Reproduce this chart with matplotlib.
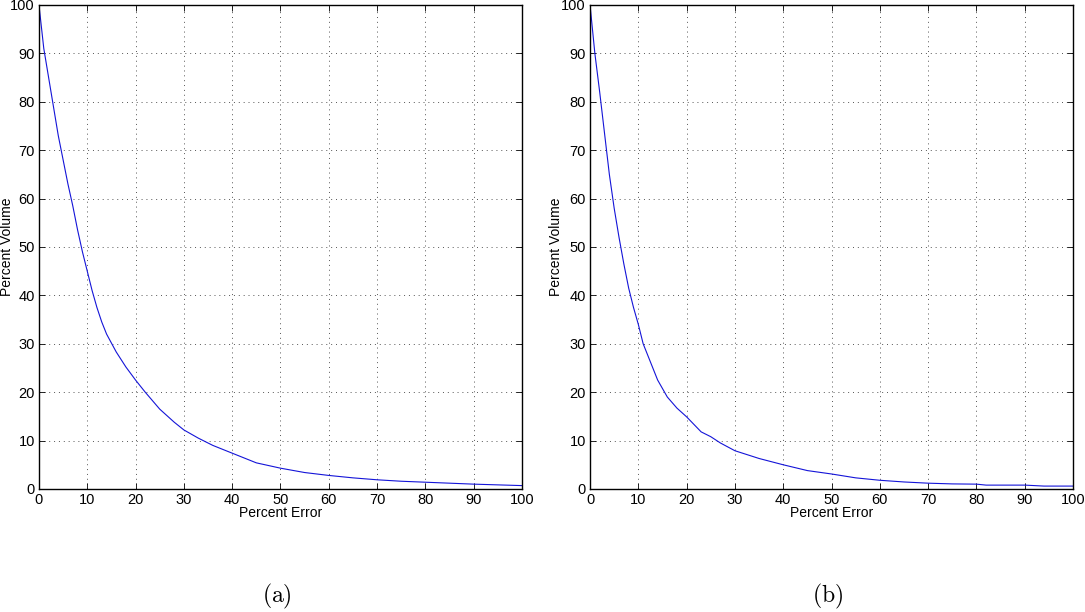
import matplotlib
matplotlib.use("Agg")
import matplotlib.pyplot as plt

# curve (a): percent volume vs percent error
err_a = [0, 1, 2, 3, 4, 5, 6, 7, 8, 9, 10, 11, 12, 13, 14, 16, 18, 20, 22, 25, 28,
         30, 33, 36, 40, 45, 50, 55, 60, 65, 70, 75, 80, 85, 90, 95, 100]
vol_a = [100, 91, 85, 79, 73, 68, 63, 58.5, 53.5, 49, 45, 41, 37.5, 34.5, 32,
         28.3, 25.2, 22.5, 20, 16.5, 13.8, 12.2, 10.5, 9, 7.4, 5.4, 4.3, 3.4,
         2.8, 2.3, 1.9, 1.6, 1.4, 1.2, 1.0, 0.85, 0.7]

# curve (b)
err_b = [0, 1, 2, 3, 4, 5, 6, 7, 8, 9, 10, 11, 12, 14, 16, 18, 20, 23, 25, 27,
         30, 35, 40, 45, 50, 55, 60, 65, 70, 75, 80, 82, 90, 94, 100]
vol_b = [100, 90, 82, 73.5, 65, 58, 52, 46.5, 41.5, 37.5, 34, 30, 27.5, 22.5,
         19, 16.7, 14.9, 11.8, 10.8, 9.5, 7.9, 6.3, 5.0, 3.8, 3.1, 2.3, 1.8,
         1.45, 1.2, 1.05, 1.0, 0.8, 0.8, 0.6, 0.6]

ticks = list(range(0, 101, 10))
captions = ["(a)", "(b)"]

plt.rcParams['font.family'] = ['Liberation Sans', 'DejaVu Sans']
plt.rcParams['mathtext.fontset'] = 'cm'

fig = plt.figure(figsize=(10.85, 6.12), dpi=100)
ax_a = fig.add_axes([0.0359, 0.201, 0.4452, 0.791])
ax_b = fig.add_axes([0.5438, 0.201, 0.4452, 0.791])

for ax, x, y, cap, lx in [(ax_a, err_a, vol_a, captions[0], -0.052),
                          (ax_b, err_b, vol_b, captions[1], -0.055)]:
    ax.plot(x, y, color='#1414d8', linewidth=0.8)
    ax.set_xlim(0, 100)
    ax.set_ylim(0, 100)
    ax.set_xticks(ticks)
    ax.set_yticks(ticks)
    ax.grid(True, linestyle=(0, (1, 4)), color='#555555', linewidth=0.7)
    ax.tick_params(direction='in', length=4, width=0.6, labelsize=10.5, pad=3,
                   top=True, right=True)
    for s in ax.spines.values():
        s.set_linewidth(1.0)
    ax.set_xlabel('Percent Error', fontsize=10)
    ax.set_ylabel('Percent Volume', fontsize=10)
    ax.xaxis.set_label_coords(0.5, -0.036)
    ax.yaxis.set_label_coords(lx, 0.5)
    pos = ax.get_position()
    fig.text(pos.x0 + pos.width / 2 - 0.0035, 1 - 596 / 612, r'$\mathrm{' + cap + '}$',
             ha='center', va='center', fontsize=17)

fig.savefig('out.png', dpi=100)
